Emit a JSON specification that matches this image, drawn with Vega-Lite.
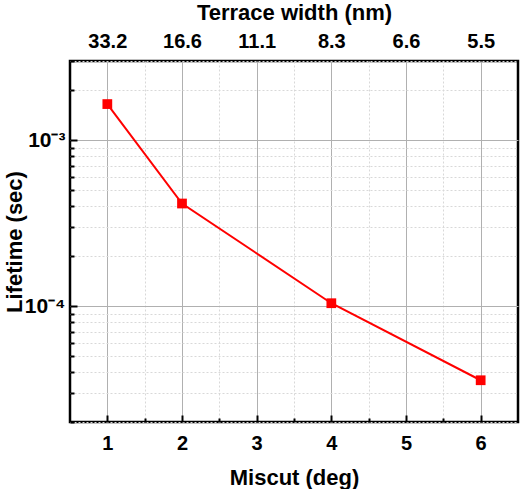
{
  "$schema": "https://vega.github.io/schema/vega-lite/v6.json",
  "width": 448,
  "height": 361,
  "autosize": {"type": "none"},
  "padding": {"left": 70, "top": 61, "right": 2, "bottom": 67},
  "background": "white",
  "config": {
    "view": {"stroke": "black", "strokeWidth": 2.5},
    "font": "Liberation Sans",
    "axis": {
      "titleFont": "Liberation Sans", "titleFontWeight": "bold", "titleFontSize": 22, "titleColor": "black",
      "domain": false, "tickColor": "black", "tickWidth": 2
    }
  },
  "data": {"values": [
    {"miscut": 1, "lifetime": 0.00165},
    {"miscut": 2, "lifetime": 0.000415},
    {"miscut": 4, "lifetime": 0.000104},
    {"miscut": 6, "lifetime": 0.0000357}
  ]},
  "resolve": {"axis": {"x": "independent", "y": "independent"}},
  "layer": [
    {
      "mark": {"type": "point", "opacity": 0},
      "encoding": {
        "x": {"field": "miscut", "type": "quantitative", "scale": {"domain": [0.5, 6.5], "nice": false, "zero": false},
          "axis": {"orient": "bottom", "values": [1.5, 2.5, 3.5, 4.5, 5.5], "labels": false, "title": null, "tickSize": -4,
            "grid": true, "gridColor": "#d8d8d8", "gridDash": [2, 2], "gridWidth": 1}},
        "y": {"field": "lifetime", "type": "quantitative", "scale": {"type": "log", "domain": [0.00002, 0.003], "nice": false},
          "axis": {"orient": "left", "values": [0.00002, 0.00003, 0.00004, 0.00005, 0.00006, 0.00007, 0.00008, 0.00009, 0.0002, 0.0003, 0.0004, 0.0005, 0.0006, 0.0007, 0.0008, 0.0009, 0.002, 0.003],
            "labels": false, "title": null, "tickSize": -4, "grid": true, "gridColor": "#d8d8d8", "gridDash": [2, 2], "gridWidth": 1}}
      }
    },
    {
      "mark": {"type": "line", "color": "#ff0000", "strokeWidth": 2},
      "encoding": {
        "x": {"field": "miscut", "type": "quantitative",
          "axis": {"orient": "bottom", "values": [1, 2, 3, 4, 5, 6], "title": "Miscut (deg)", "tickSize": -7, "labelPadding": 18, "titlePadding": 14,
            "labelFont": "Liberation Sans", "labelFontWeight": "bold", "labelFontSize": 20, "labelColor": "black",
            "grid": true, "gridColor": "#b0b0b0", "gridWidth": 1}},
        "y": {"field": "lifetime", "type": "quantitative",
          "axis": {"orient": "left", "values": [0.001, 0.0001], "title": "Lifetime (sec)", "tickSize": -7, "labelPadding": 12, "titlePadding": -2,
            "labelFont": "Liberation Sans", "labelFontWeight": "bold", "labelFontSize": 21, "labelColor": "black",
            "labelExpr": "datum.value > 0.0005 ? '10⁻³' : '10⁻⁴'",
            "grid": true, "gridColor": "#b0b0b0", "gridWidth": 1}}
      }
    },
    {
      "mark": {"type": "square", "color": "#ff0000", "opacity": 1, "size": 95},
      "encoding": {
        "x": {"field": "miscut", "type": "quantitative",
          "axis": {"orient": "top", "values": [1, 2, 3, 4, 5, 6], "title": "Terrace width (nm)", "ticks": false, "labelPadding": 10, "titlePadding": 7,
            "labelFont": "Liberation Sans", "labelFontWeight": "bold", "labelFontSize": 20, "labelColor": "black",
            "labelExpr": "datum.value == 1 ? '33.2' : datum.value == 2 ? '16.6' : datum.value == 3 ? '11.1' : datum.value == 4 ? '8.3' : datum.value == 5 ? '6.6' : '5.5'"}},
        "y": {"field": "lifetime", "type": "quantitative", "axis": null}
      }
    }
  ]
}
